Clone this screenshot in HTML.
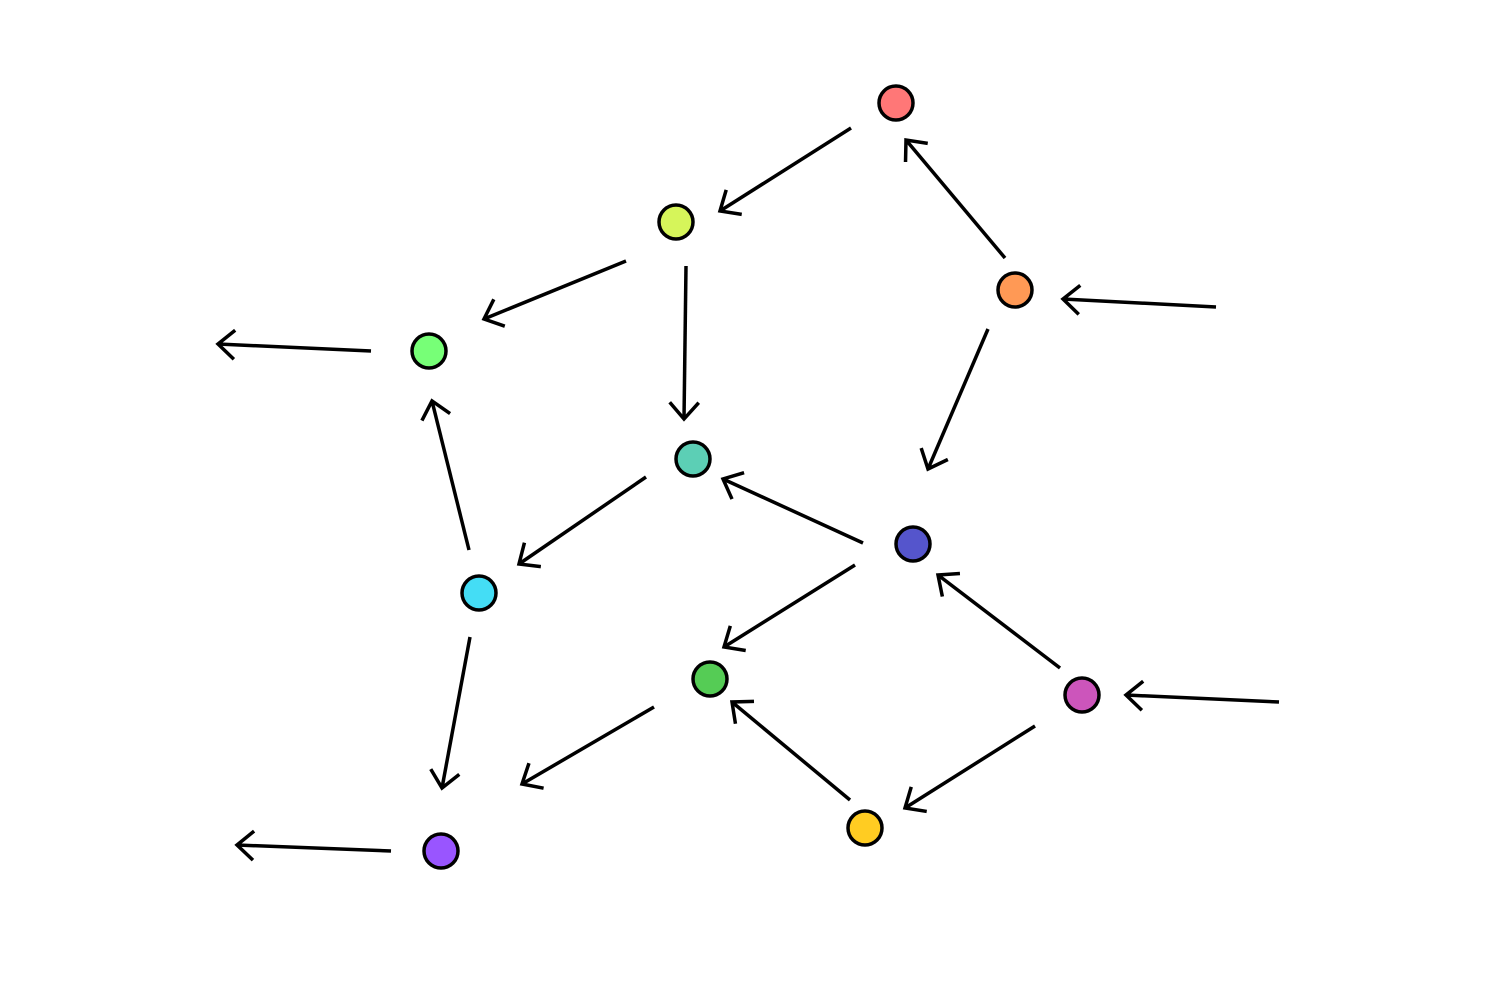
<!DOCTYPE html>
<html><head><meta charset="utf-8"><style>html,body{margin:0;background:#fff}svg{display:block}</style></head>
<body>
<svg id="s" width="1500" height="1000" viewBox="0 0 1500 1000" xmlns="http://www.w3.org/2000/svg">
<rect width="1500" height="1000" fill="#fff"/>
<g id="e" stroke="#000" stroke-width="3.5" fill="none" stroke-linecap="butt"></g>
<g stroke="#000" stroke-width="3.5">
<circle cx="896" cy="103" r="17" fill="#ff7777"/>
<circle cx="676" cy="222" r="17" fill="#d6f55a"/>
<circle cx="1015" cy="290" r="17" fill="#ff9955"/>
<circle cx="429" cy="351" r="17" fill="#77ff77"/>
<circle cx="693" cy="459" r="17" fill="#5ccfb5"/>
<circle cx="913" cy="544" r="17" fill="#5555cc"/>
<circle cx="479" cy="593" r="17" fill="#44ddf5"/>
<circle cx="710" cy="679" r="17" fill="#55cc55"/>
<circle cx="1082" cy="695" r="17" fill="#cc55bb"/>
<circle cx="865" cy="828" r="17" fill="#ffcc22"/>
<circle cx="441" cy="851" r="17" fill="#9955ff"/>
</g>
</svg>
<script>
var E=[[851,128,720,211],[1005,258,906,140],[626,261,484,319],[686,266,684,419],[1216,307,1063,299],[371,351,218,344],[988,329,928,469],[646,477,519,564],[863,543,723,479],[469,550,432,401],[855,565,724,647],[1060,668,938,575],[1279,702,1126,695],[470,637,442,788],[654,707,522,784],[850,800,732,702],[1035,726,905,808],[391,851,237,845]];
var g=document.getElementById('e'),h='';
E.forEach(function(a){var dx=a[2]-a[0],dy=a[3]-a[1],L=Math.hypot(dx,dy),ux=dx/L,uy=dy/L,c=Math.cos(0.72),s=Math.sin(0.72),l=22;
var p1=[a[2]-l*(ux*c-uy*s),a[3]-l*(uy*c+ux*s)],p2=[a[2]-l*(ux*c+uy*s),a[3]-l*(uy*c-ux*s)];
h+='<line x1="'+a[0]+'" y1="'+a[1]+'" x2="'+a[2]+'" y2="'+a[3]+'"/><polyline points="'+p1+' '+a[2]+','+a[3]+' '+p2+'"/>';});
g.innerHTML=h;
</script>
</body></html>
